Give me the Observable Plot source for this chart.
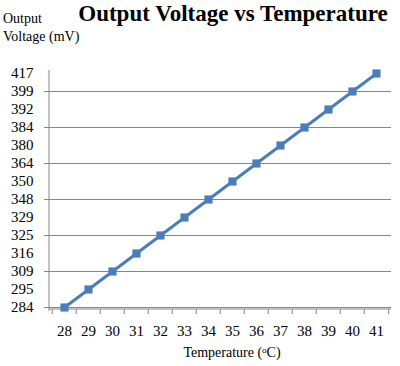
<!DOCTYPE html>
<html><head><meta charset="utf-8">
<script src="https://cdn.jsdelivr.net/npm/d3@7"></script>
<script src="https://cdn.jsdelivr.net/npm/@observablehq/plot@0.6"></script>
<style>body{margin:0;background:#fff}</style>
</head><body><div id="chart"></div>
<script>
const temperatures = [28,29,30,31,32,33,34,35,36,37,38,39,40,41];
const voltages = [284,295,309,316,325,329,348,350,364,380,384,392,399,417];
const gridVoltages = [284,309,325,348,364,384,399];

const data = temperatures.map((t,i)=>({t, v: voltages[i]}));
const L=49, R=391, B=309, T=71;
const step = (R-L)/temperatures.length;
const gridColor = "#868686";
const blue = "#4a7ebb";

const svg = Plot.plot({
  width: 400, height: 366,
  marginLeft: L, marginRight: 400-R, marginTop: T, marginBottom: 366-B,
  style: {fontFamily: "'Liberation Serif', 'Times New Roman', serif", fontSize: "15px", color: "#000", background: "#fff"},
  x: {type: "point", domain: temperatures, padding: 0.5, range: [L, R], axis: null, label: null},
  y: {type: "point", domain: voltages, padding: 0, range: [B, T], axis: null, label: null},
  marks: [
    Plot.ruleY(gridVoltages, {y: d=>d, stroke: gridColor, strokeWidth: 1}),
    Plot.tickY(gridVoltages, {y: d=>d, stroke: gridColor}),
    Plot.axisY({tickSize: 0, tickPadding: 16, fontSize: 15, textAnchor: "end", stroke: "none", fill:"#000", label: null}),
    Plot.axisX({tickSize: 0, tickPadding: 16, fontSize: 15, fill:"#000", label: null}),
    Plot.tickX(temperatures, {x: d=>d, dx: -step/2, stroke: gridColor}),
    Plot.tickX([temperatures[temperatures.length-1]], {x: d=>d, dx: step/2, stroke: gridColor}),
    Plot.line(data, {x: "t", y: "v", stroke: blue, strokeWidth: 3}),
    Plot.dot(data, {x: "t", y: "v", symbol: "square", r: 4.6, fill: blue, stroke: "none"})
  ]
});

const s = d3.select(svg);
s.selectAll("g").filter(function(){return this.getAttribute("aria-label")==="rule";}).selectAll("line")
  .attr("x1", L).attr("x2", R);
s.selectAll("g").filter(function(){return this.getAttribute("aria-label")==="tick";}).each(function(d,i){
  const g = d3.select(this);
  if (i===0) g.selectAll("line").attr("x1", L-5).attr("x2", L);
  else g.selectAll("line").attr("y1", B).attr("y2", B+5);
});
s.append("line").attr("x1",L).attr("x2",L).attr("y1",T-1).attr("y2",B+2).attr("stroke",gridColor);
s.append("line").attr("x1",L).attr("x2",R).attr("y1",B).attr("y2",B).attr("stroke",gridColor);
const ff = "'Liberation Serif', 'Times New Roman', serif";
s.append("text").attr("x",233).attr("y",21).attr("text-anchor","middle").attr("font-family",ff)
  .attr("font-weight","bold").attr("font-size",23).attr("fill","#000").text("Output Voltage vs Temperature");
s.append("text").attr("x",3).attr("y",23).attr("text-anchor","start").attr("font-family",ff).attr("font-size",14).attr("fill","#000").text("Output");
s.append("text").attr("x",3).attr("y",41).attr("text-anchor","start").attr("font-family",ff).attr("font-size",14).attr("fill","#000").text("Voltage (mV)");
const xt = s.append("text").attr("x",232).attr("y",357).attr("text-anchor","middle").attr("font-family",ff).attr("font-size",14).attr("fill","#000");
xt.append("tspan").text("Temperature (");
xt.append("tspan").attr("font-size",9).attr("dy",-4).text("o");
xt.append("tspan").attr("dy",4).text("C)");
s.selectAll("g").filter(function(){const a=this.getAttribute("aria-label");return a==="line"||a==="dot";}).raise();
document.getElementById("chart").appendChild(svg);
</script></body></html>
